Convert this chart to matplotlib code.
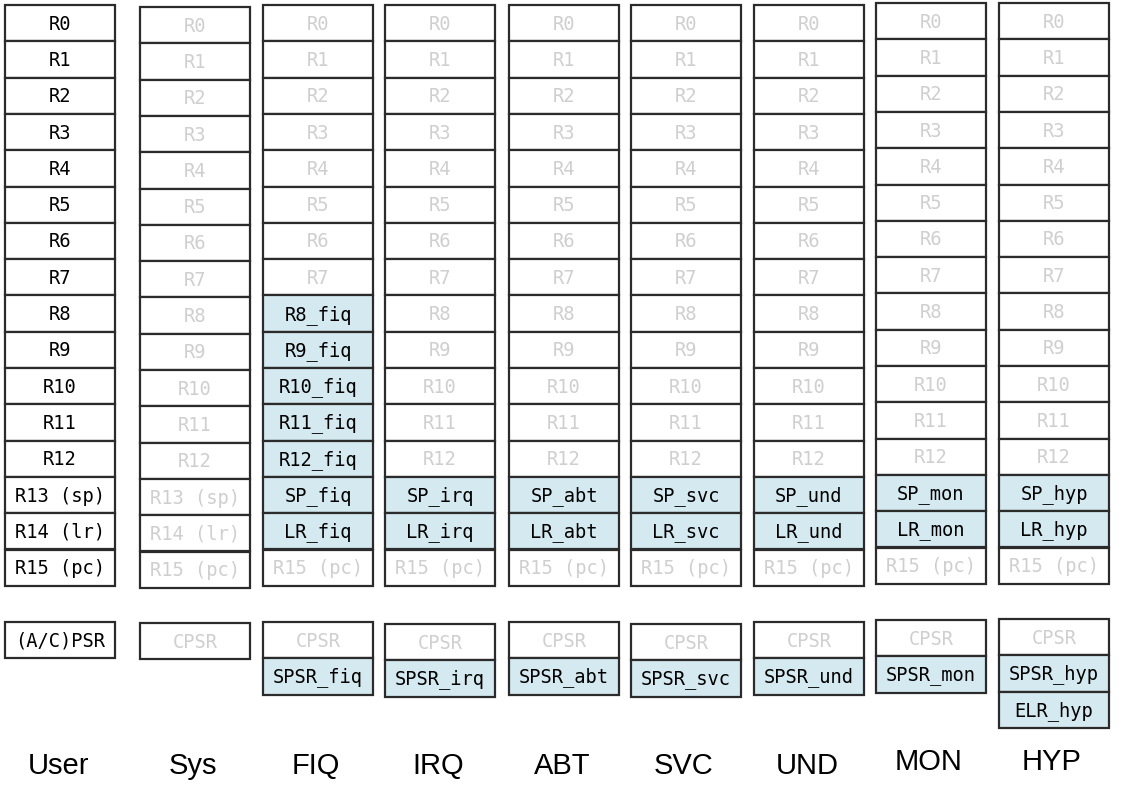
import matplotlib.pyplot as plt
from matplotlib.patches import Rectangle

modes = ["User", "Sys", "FIQ", "IRQ", "ABT", "SVC", "UND", "MON", "HYP"]
regs = ["R0", "R1", "R2", "R3", "R4", "R5", "R6", "R7", "R8", "R9", "R10", "R11", "R12",
        "R13 (sp)", "R14 (lr)", "R15 (pc)"]
suffix = [None, None, "fiq", "irq", "abt", "svc", "und", "mon", "hyp"]
# layout (pixels)
lefts = [5, 140, 263, 385, 509, 631, 754, 876, 999]
tops = [5, 7, 5, 5, 5, 5, 5, 3, 3]
psr_tops = [622, 623, 622, 624, 622, 624, 622, 620, 619]
label_y = [766, 766, 766, 766, 766, 766, 766, 762, 762]
W, H = 110, 36.3

BLUE = "#d4e9f0"
GRAY = "#cfcfcf"
EDGE = "#2b2b2b"

fig = plt.figure(figsize=(11.29, 7.89), dpi=100)
ax = fig.add_axes([0, 0, 1, 1])
ax.set_xlim(0, 1129)
ax.set_ylim(789, 0)
ax.axis("off")

def cell(x, y, text, state):
    fc = BLUE if state == "bank" else "white"
    ax.add_patch(Rectangle((x, y), W, H, facecolor=fc, edgecolor=EDGE, lw=1.6))
    color = GRAY if state == "gray" else "black"
    ax.text(x + W / 2, y + H / 2 + 1, text, ha="center", va="center",
            fontsize=13.5, family="DejaVu Sans Mono", color=color)

for c, mode in enumerate(modes):
    x = lefts[c]
    for r, reg in enumerate(regs):
        y = tops[c] + r * H
        if c == 0:
            cell(x, y, reg, "normal")
        elif c == 2 and 8 <= r <= 14:
            name = {13: "SP", 14: "LR"}.get(r, reg)
            cell(x, y, f"{name}_{suffix[c]}", "bank")
        elif c >= 2 and r in (13, 14):
            name = "SP" if r == 13 else "LR"
            cell(x, y, f"{name}_{suffix[c]}", "bank")
        else:
            cell(x, y, reg, "gray")
    py = psr_tops[c]
    if c == 0:
        cell(x, py, "(A/C)PSR", "normal")
    else:
        cell(x, py, "CPSR", "gray")
    if c >= 2:
        cell(x, py + H, f"SPSR_{suffix[c]}", "bank")
    if mode == "HYP":
        cell(x, py + 2 * H, "ELR_hyp", "bank")
    ax.text(x + W / 2 - 2, label_y[c], mode, ha="center", va="center",
            fontsize=21, family="Liberation Sans")

fig.savefig("out.png", dpi=100)
